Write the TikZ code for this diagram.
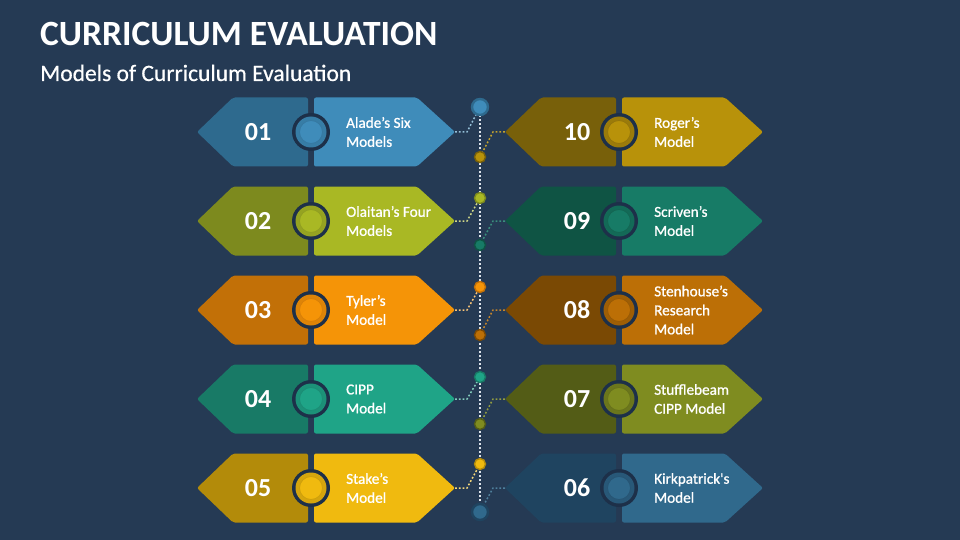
\documentclass[tikz,border=0pt]{standalone}
\usepackage{fontspec}
\setmainfont{Carlito}
\newfontfamily\semifont[FakeBold=1.0]{Carlito}
\newfontfamily\subfont[FakeBold=0.6]{Carlito}
\definecolor{bg}{HTML}{253A54}
\definecolor{ringc}{HTML}{1D3049}
\definecolor{spinec}{HTML}{DCE2EA}
% left rows
\definecolor{aD}{HTML}{2E6A8E}\definecolor{aL}{HTML}{3F8CBA}
\definecolor{bD}{HTML}{7D8A1E}\definecolor{bL}{HTML}{A9B824}
\definecolor{cD}{HTML}{C27007}\definecolor{cL}{HTML}{F59407}
\definecolor{dD}{HTML}{187A66}\definecolor{dL}{HTML}{1FA487}
\definecolor{eD}{HTML}{B38B0A}\definecolor{eL}{HTML}{F0BA0F}
% right rows
\definecolor{jD}{HTML}{78600A}\definecolor{jL}{HTML}{B8920A}
\definecolor{iD}{HTML}{0F5444}\definecolor{iL}{HTML}{177B66}
\definecolor{hD}{HTML}{7A4904}\definecolor{hL}{HTML}{BC6F06}
\definecolor{gD}{HTML}{535C16}\definecolor{gL}{HTML}{7F8C20}
\definecolor{fD}{HTML}{1F4460}\definecolor{fL}{HTML}{30698C}
\tikzset{
  conn/.style={line width=1.5pt, dash pattern=on 1.8pt off 2pt},
  spineline/.style={line width=1.6pt, draw=spinec, dash pattern=on 2pt off 2pt},
  num/.style={font=\bfseries\fontsize{26}{28}\selectfont, text=white, inner sep=0},
  lbl/.style={font=\semifont\fontsize{15.2}{19}\selectfont, text=white, align=left, anchor=west, inner sep=0},
  dot/.style={circle, inner sep=0, minimum size=11pt, line width=1.4pt},
  bigdot/.style={circle, inner sep=0, minimum size=16pt, line width=2.4pt},
  ringnode/.style={circle, fill=ringc, minimum size=38pt, inner sep=0},
}
% #1 name, #2 x-shift, #3 yc, #4 dark, #5 light, #6 number x (local), #7 number, #8 label
\newcommand\mkrow[8]{%
\begin{scope}[shift={(#2,#3)}]
  \fill[#4, rounded corners=2pt] (197,0) -- (233,-34.5) -- (308,-34.5) -- (308,34.5) -- (233,34.5) -- cycle;
  \fill[#5, rounded corners=2pt] (314,-34.5) -- (417,-34.5) -- (455,0) -- (417,34.5) -- (314,34.5) -- cycle;
  \node[ringnode] (#1c) at (311,0) {};
  \fill[#4!45!#5] (#1c.center) circle (15.5);
  \filldraw[fill=#5, draw=#4!55!#5, line width=0.8pt] (#1c.center) circle (11.5);
  \node[num] (#1n) at (#6,0) {#7};
  \node[lbl] (#1l) at (346,0) {#8};
  \coordinate (#1R) at (455,0);
  \coordinate (#1L) at (197,0);
\end{scope}}
\begin{document}
\begin{tikzpicture}[x=1pt,y=-1pt]
\fill[bg] (0,0) rectangle (960,540);
\useasboundingbox (0,0) rectangle (960,540);

\node[anchor=base west, inner sep=0, text=white, font=\bfseries\fontsize{35.5}{40}\selectfont] (title) at (40,46) {CURRICULUM EVALUATION};
\node[anchor=base west, inner sep=0, text=white, font=\subfont\fontsize{23.5}{28}\selectfont] (subtitle) at (40,81) {Models of Curriculum Evaluation};

% rows
\mkrow{ra}{0}{132}{aD}{aL}{258}{01}{Alade’s Six\\Models}
\mkrow{rb}{0}{221}{bD}{bL}{258}{02}{Olaitan’s Four\\Models}
\mkrow{rc}{0}{310}{cD}{cL}{258}{03}{Tyler’s\\Model}
\mkrow{rd}{0}{399}{dD}{dL}{258}{04}{CIPP\\Model}
\mkrow{re}{0}{488}{eD}{eL}{258}{05}{Stake’s\\Model}
\mkrow{rj}{308}{132}{jD}{jL}{269}{10}{Roger’s\\Model}
\mkrow{ri}{308}{221}{iD}{iL}{269}{09}{Scriven’s\\Model}
\mkrow{rh}{308}{310}{hD}{hL}{269}{08}{Stenhouse’s\\Research\\Model}
\mkrow{rg}{308}{399}{gD}{gL}{269}{07}{Stufflebeam\\CIPP Model}
\mkrow{rf}{308}{488}{fD}{fL}{269}{06}{Kirkpatrick{\textquotesingle}s\\Model}

% spine points
\coordinate (top) at (480,107);
\coordinate (bot) at (480,512);
\coordinate (pb) at (480,198);
\coordinate (pc) at (480,287);
\coordinate (pd) at (480,377);
\coordinate (pe) at (480,464);
\coordinate (qj) at (480,157);
\coordinate (qi) at (480,245);
\coordinate (qh) at (480,335);
\coordinate (qg) at (480,424);

\draw[spineline] (top) -- (bot);

% connectors, left column
\draw[conn, draw=aL!55!white] (raR) -- ++(12,0) -- (top);
\draw[conn, draw=bL!55!white] (rbR) -- ++(12,0) -- (pb);
\draw[conn, draw=cL!55!white] (rcR) -- ++(12,0) -- (pc);
\draw[conn, draw=dL!55!white] (rdR) -- ++(12,0) -- (pd);
\draw[conn, draw=eL!55!white] (reR) -- ++(12,0) -- (pe);
% connectors, right column
\draw[conn, draw=jL!85!white] (rjL) -- ++(-12,0) -- (qj);
\draw[conn, draw=iL!85!white] (riL) -- ++(-12,0) -- (qi);
\draw[conn, draw=hL!85!white] (rhL) -- ++(-12,0) -- (qh);
\draw[conn, draw=gL!85!white] (rgL) -- ++(-12,0) -- (qg);
\draw[conn, draw=fL!85!white] (rfL) -- ++(-12,0) -- (bot);

% dots
\node[bigdot, fill=aL, draw=aD] (topdot) at (top) {};
\node[bigdot, fill=fL, draw=fD] (botdot) at (bot) {};
\node[dot, fill=bL, draw=bD] (db) at (pb) {};
\node[dot, fill=cL, draw=cD] (dc) at (pc) {};
\node[dot, fill=dL, draw=dD] (dd) at (pd) {};
\node[dot, fill=eL, draw=eD] (de) at (pe) {};
\node[dot, fill=jL, draw=jD] (dj) at (qj) {};
\node[dot, fill=iL, draw=iD] (di) at (qi) {};
\node[dot, fill=hL, draw=hD] (dh) at (qh) {};
\node[dot, fill=gL, draw=gD] (dg) at (qg) {};
\end{tikzpicture}
\end{document}
